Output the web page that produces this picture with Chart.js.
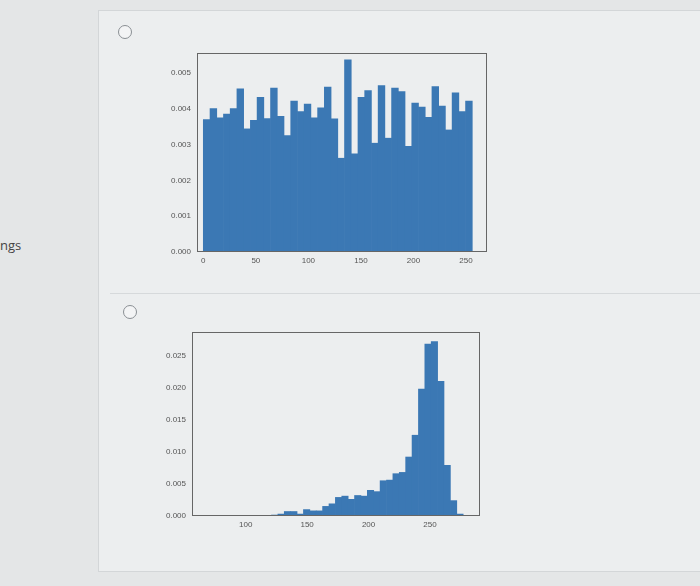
<!DOCTYPE html>
<html>
<head>
<meta charset="utf-8">
<script src="https://cdn.jsdelivr.net/npm/chart.js@4/dist/chart.umd.min.js"></script>
<style>
  body { margin: 0; width: 700px; height: 586px; background: #e4e6e7; font-family: "Open Sans", sans-serif; position: relative; overflow: hidden; }
  .panel { position: absolute; left: 98px; top: 10px; width: 620px; height: 560px; background: #eceeef; border: 1px solid #d3d6d8; }
  .sep { position: absolute; left: 110px; top: 293px; width: 600px; height: 1px; background: #d6d9db; }
  .radio { position: absolute; width: 12px; height: 12px; border: 1.5px solid #8a8f94; border-radius: 50%; background: #f3f4f5; }
  .side { position: absolute; left: 0; top: 236px; font-size: 13px; color: #444; }
  canvas { position: absolute; }
</style>
</head>
<body>
<div class="panel"></div>
<div class="sep"></div>
<div class="radio" style="left:118px; top:25px"></div>
<div class="radio" style="left:123px; top:305px"></div>
<div class="side">ngs</div>
<div style="position:absolute;left:147px;top:45px;width:350px;height:225px"><canvas id="top"></canvas></div>
<div style="position:absolute;left:142px;top:324px;width:348px;height:210px"><canvas id="bottom"></canvas></div>
<script>
// top histogram: 40 bins over 0..256
const topStart = 0;
const topWidth = 6.4;
const topDensity = [3.70, 4.01, 3.75, 3.85, 4.01, 4.56, 3.44, 3.68, 4.32, 3.73,
                    4.58, 3.79, 3.25, 4.22, 3.92, 4.13, 3.75, 4.03, 4.61, 3.72,
                    2.62, 5.37, 2.74, 4.32, 4.51, 3.04, 4.65, 3.18, 4.58, 4.48,
                    2.95, 4.16, 4.05, 3.76, 4.62, 4.08, 3.41, 4.45, 3.92, 4.22]; // x 1e-3
const topXTicks = [0, 50, 100, 150, 200, 250];

// bottom histogram: 40 bins starting near 69
const botStart = 69;
const botWidth = 5.2;
const botDensity = [0, 0, 0, 0, 0, 0, 0.05, 0.05, 0.05, 0.05,
                    0.15, 0.3, 0.7, 0.7, 0.3, 1.0, 0.8, 0.8, 1.5, 1.9,
                    2.9, 3.1, 2.6, 3.2, 3.1, 4.0, 3.8, 5.5, 5.6, 6.6,
                    6.8, 9.2, 12.6, 19.8, 26.8, 27.2, 21.0, 7.9, 2.4, 0.3]; // x 1e-3
const botXTicks = [100, 150, 200, 250];

const barColor = '#3b78b4';
const tickColor = '#555';

const frame = {
  id: 'frame',
  afterDraw(chart) {
    const a = chart.chartArea, c = chart.ctx;
    c.save();
    c.strokeStyle = '#666';
    c.lineWidth = 1;
    c.strokeRect(a.left + 0.5, a.top + 0.5, a.right - a.left - 1, a.bottom - a.top - 1);
    c.restore();
  }
};

function makeHist(id, start, width, dens, xTicks, xmin, xmax, ymax, ystep, rightPad) {
  const pts = dens.map((d, i) => ({ x: start + width * (i + 0.5), y: d / 1000 }));
  new Chart(document.getElementById(id), {
    type: 'bar',
    data: { datasets: [{ data: pts, backgroundColor: barColor, barPercentage: 1, categoryPercentage: 1, borderWidth: 0 }] },
    options: {
      responsive: true, maintainAspectRatio: false, animation: false,
      layout: { padding: { top: 8, right: rightPad } },
      plugins: { legend: { display: false }, tooltip: { enabled: false } },
      scales: {
        x: {
          type: 'linear', min: xmin, max: xmax, offset: false,
          grid: { display: false, drawTicks: true, tickLength: 3, tickColor: '#666' },
          border: { display: false },
          afterBuildTicks: s => { s.ticks = xTicks.map(v => ({ value: v })); },
          afterFit: s => { s.height = 18; },
          ticks: { color: tickColor, font: { size: 8 }, padding: 1, maxRotation: 0, callback: v => v }
        },
        y: {
          min: 0, max: ymax,
          grid: { display: false, drawTicks: true, tickLength: 3, tickColor: '#666' },
          border: { display: false },
          afterBuildTicks: s => {
            const t = [];
            for (let v = 0; v <= ymax + 1e-9; v += ystep) t.push({ value: v });
            s.ticks = t;
          },
          afterFit: s => { s.width = 50; },
          ticks: { color: tickColor, font: { size: 8 }, padding: 3, callback: v => v.toFixed(3) }
        }
      }
    },
    plugins: [frame]
  });
}

makeHist('top', topStart, topWidth, topDensity, topXTicks, -6, 270, 0.00556, 0.001, 10);
makeHist('bottom', botStart, botWidth, botDensity, botXTicks, 56.3, 290.7, 0.0287, 0.005, 10);
</script>
</body>
</html>
